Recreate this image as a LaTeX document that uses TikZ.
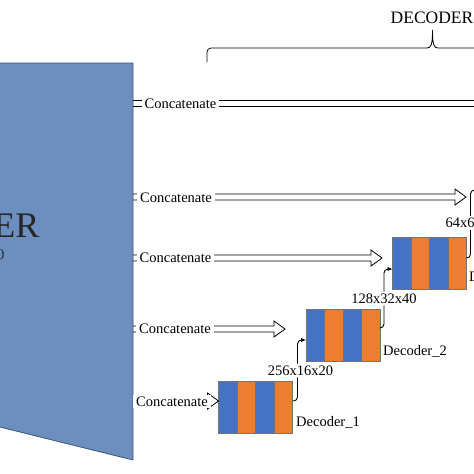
\documentclass[tikz,border=0pt]{standalone}
\usepackage{fontspec}
\setmainfont{Liberation Serif}
\usetikzlibrary{calc,arrows.meta}
\definecolor{encblue}{RGB}{109,143,192}
\definecolor{encline}{RGB}{60,84,120}
\definecolor{stripeblue}{RGB}{68,114,196}
\definecolor{stripeorange}{RGB}{237,125,49}
\tikzset{
  lab/.style={font=\fontsize{14.5}{17}\selectfont, inner sep=0pt},
  concat/.style={lab, fill=white, inner xsep=3pt, inner ysep=2pt},
  dimlab/.style={lab, fill=white, inner xsep=1pt, inner ysep=2pt},
  blk/.style={minimum width=74pt, minimum height=52pt, inner sep=0pt, outer sep=0pt},
  hollow/.style={draw=black, line width=0.8pt, line join=miter},
  conn/.style={draw=black, line width=0.9pt, rounded corners=4pt, -{Latex[length=5pt,width=4.5pt]}},
  bracepath/.style={draw=black, line width=0.8pt},
}
\newcommand\stripeblock[1]{%
  \foreach \i/\c in {0/stripeblue,1/stripeorange,2/stripeblue,3/stripeorange}{%
    \pgfmathsetmacro\fa{\i/4}\pgfmathsetmacro\fb{(\i+1)/4}%
    \filldraw[fill=\c, draw=black!55, line width=0.4pt]
      ($(#1.north west)!\fa!(#1.north east)$) rectangle ($(#1.south west)!\fb!(#1.south east)$);
  }}
\newcommand\hollowarrow[2]{%
  \draw[hollow] ($(#1)+(0,-3)$) -- ($(#2)+(-11,-3)$) -- ($(#2)+(-11,-8)$) -- (#2)
    -- ($(#2)+(-11,8)$) -- ($(#2)+(-11,3)$) -- ($(#1)+(0,3)$);}
\begin{document}
\begin{tikzpicture}[x=1pt,y=-1pt]
\useasboundingbox (0,0) rectangle (474,474);

% encoder
\fill[encblue] (-3,63) -- (133,63) -- (133,460) -- (-3,426.3) -- cycle;
\draw[encline, line width=0.8pt] (-3,63) -- (133,63) -- (133,460) -- (-3,426.3);
\node[font=\fontsize{36}{40}\selectfont, anchor=base east, text=black!85] (enc) at (43,237) {ENCODER};
\node[lab, anchor=base east, text=black!85] (encdim) at (4.5,259) {0};

% edge coordinates on encoder
\coordinate (e1) at (133,103);
\coordinate (e2) at (133,197);
\coordinate (e3) at (133,258);
\coordinate (e4) at (133,329);
\coordinate (e5) at (133,401);

% decoder blocks
\node[blk] (d1) at (255.5,407) {};
\node[blk] (d2) at (343,335) {};
\node[blk] (d3) at (429.5,263) {};
\stripeblock{d1}
\stripeblock{d2}
\stripeblock{d3}
\node[lab, anchor=base west] (d1l) at (296,426) {Decoder\_1};
\node[lab, anchor=base west] (d2l) at (383,355) {Decoder\_2};
\node[lab, anchor=base west] (d3l) at (469,281) {Decoder\_3};

% arrow tips
\coordinate (r1) at (480,103);
\coordinate (t2) at (466,197);
\coordinate (t3) at (382,258);
\coordinate (t4) at (285,329);
\coordinate (t5) at ($(d1.west)+(0,-6)$);
\coordinate (d4in) at (490,190);

% concatenate arrows
\draw[hollow] ($(e1)+(0,-3)$) -- ($(r1)+(0,-3)$);
\draw[hollow] ($(e1)+(0,3)$) -- ($(r1)+(0,3)$);
\hollowarrow{e2}{t2}
\hollowarrow{e3}{t3}
\hollowarrow{e4}{t4}
\hollowarrow{e5}{t5}
\node[concat] (c1) at (180.5,103.5) {Concatenate};
\node[concat] (c2) at (176,197.5) {Concatenate};
\node[concat] (c3) at (175.5,258) {Concatenate};
\node[concat] (c4) at (175,329) {Concatenate};
\node[concat] (c5) at (172,401.5) {Concatenate};

% decoder connectors
\draw[conn] ($(d1.east)+(0,-6)$) -- ++(5,0) |- node[dimlab,pos=0.25,xshift=3pt]{256x16x20} ($(d2.west)+(0,5)$);
\draw[conn] ($(d2.east)+(0,-7)$) -- ++(4,0) |- node[dimlab,pos=0.25]{128x32x40} ($(d3.west)+(0,6)$);
\draw[conn] ($(d3.east)+(0,-5)$) -- ++(4,0) |- node[dimlab,pos=0.25,xshift=4pt,yshift=1pt]{64x64x80} (d4in);

% brace and title
\draw[bracepath, rounded corners=4pt] (207,62) -- (207,48) -- (427,48);
\draw[bracepath] (427,48) .. controls (431,48) and (432.5,45) .. (432.5,30)
  .. controls (432.5,45) and (434,48) .. (438,48) -- (480,48);
\node[font=\fontsize{17.5}{20}\selectfont, inner sep=0pt] (dec) at (432,17.5) {DECODER};
\end{tikzpicture}
\end{document}
